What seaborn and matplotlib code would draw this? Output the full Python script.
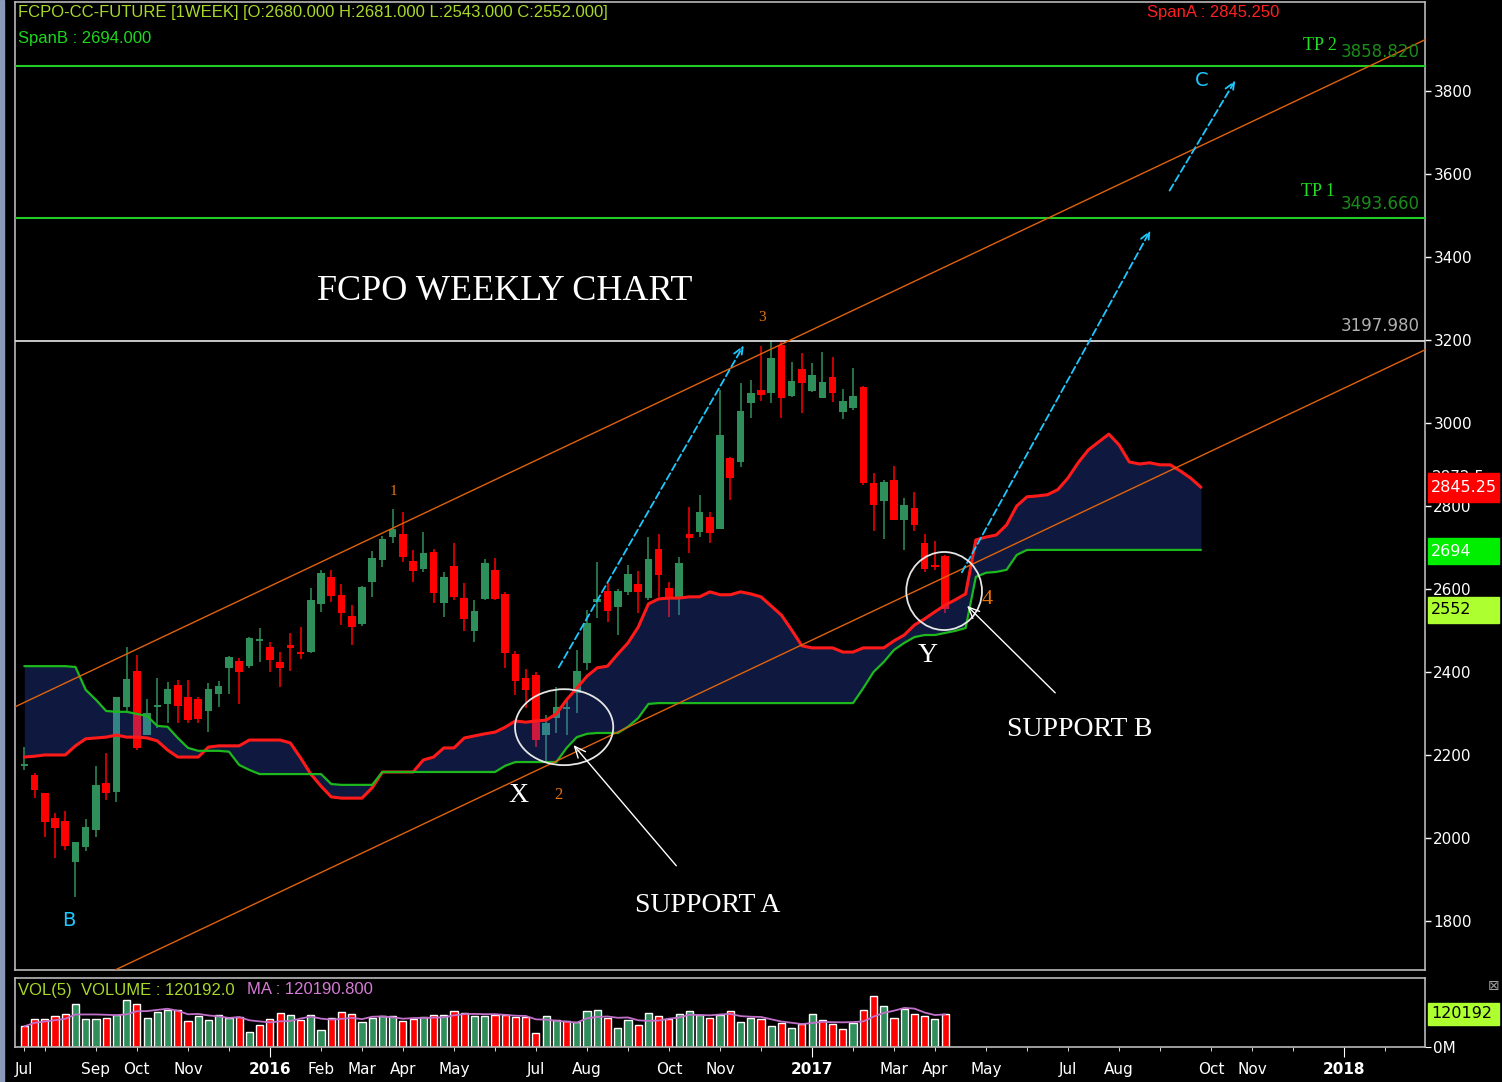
import numpy as np
import pandas as pd
import matplotlib.pyplot as plt
import seaborn as sns
from matplotlib.patches import Ellipse, Rectangle

# weekly FCPO candles (Jul 2015 - Apr 2017)
opens = [2174, 2152, 2108, 2048, 2041, 1942, 1978, 2019, 2133, 2111,
         2316, 2402, 2248, 2316, 2323, 2369, 2340, 2335, 2306, 2347,
         2410, 2427, 2414, 2475, 2460, 2424, 2465, 2448, 2448, 2564,
         2629, 2586, 2535, 2516, 2617, 2670, 2725, 2733, 2667, 2648,
         2689, 2566, 2655, 2578, 2499, 2576, 2646, 2588, 2443, 2386,
         2393, 2248, 2289, 2311, 2349, 2422, 2569, 2595, 2557, 2593,
         2612, 2578, 2696, 2602, 2581, 2733, 2737, 2774, 2745, 2916,
         2906, 3048, 3080, 3072, 3188, 3065, 3130, 3077, 3060, 3111,
         3027, 3036, 3087, 2855, 2812, 2863, 2766, 2795, 2711, 2658,
         2680]
highs = [2219, 2157, 2108, 2060, 2065, 1990, 2046, 2174, 2205, 2340,
         2460, 2441, 2335, 2386, 2376, 2381, 2381, 2340, 2374, 2378,
         2439, 2434, 2484, 2506, 2472, 2448, 2494, 2508, 2602, 2645,
         2646, 2612, 2561, 2607, 2692, 2728, 2793, 2786, 2694, 2737,
         2696, 2641, 2711, 2614, 2574, 2672, 2675, 2593, 2451, 2407,
         2400, 2296, 2364, 2337, 2453, 2549, 2665, 2614, 2600, 2658,
         2643, 2725, 2733, 2617, 2677, 2798, 2827, 2786, 3080, 2918,
         3096, 3104, 3186, 3200, 3195, 3147, 3169, 3145, 3171, 3159,
         3082, 3133, 3089, 2880, 2863, 2896, 2819, 2834, 2733, 2716,
         2681]
lows = [2164, 2096, 2002, 1952, 1971, 1858, 1969, 2002, 2092, 2087,
        2304, 2212, 2248, 2265, 2277, 2277, 2277, 2277, 2255, 2316,
        2347, 2323, 2410, 2424, 2400, 2364, 2403, 2431, 2446, 2545,
        2569, 2513, 2465, 2511, 2581, 2653, 2711, 2665, 2617, 2641,
        2566, 2533, 2574, 2499, 2472, 2574, 2574, 2410, 2345, 2313,
        2219, 2183, 2253, 2248, 2301, 2405, 2530, 2520, 2489, 2586,
        2542, 2574, 2581, 2533, 2537, 2687, 2725, 2711, 2745, 2814,
        2894, 3012, 3053, 3048, 3012, 3063, 3024, 3075, 3060, 3051,
        3010, 3031, 2851, 2740, 2720, 2766, 2694, 2740, 2641, 2646,
        2543]
closes = [2176, 2116, 2039, 2024, 1981, 1990, 2027, 2128, 2108, 2340,
          2383, 2217, 2301, 2320, 2359, 2318, 2284, 2287, 2359, 2366,
          2436, 2400, 2482, 2479, 2429, 2410, 2458, 2443, 2574, 2639,
          2583, 2542, 2508, 2605, 2675, 2720, 2745, 2677, 2643, 2687,
          2590, 2629, 2581, 2528, 2547, 2663, 2576, 2446, 2378, 2357,
          2236, 2277, 2316, 2316, 2402, 2518, 2576, 2547, 2595, 2636,
          2593, 2672, 2634, 2581, 2663, 2723, 2786, 2735, 2971, 2867,
          3029, 3072, 3067, 3157, 3060, 3101, 3096, 3116, 3099, 3072,
          3053, 3065, 2855, 2802, 2858, 2766, 2802, 2754, 2648, 2653,
          2552]

volumes = [76000, 102000, 104000, 113000, 123000, 157000, 102000, 104000, 107000, 116000,
           172000, 159000, 107000, 129000, 137000, 135000, 94000, 114000, 101000, 119000,
           107000, 110000, 55000, 80000, 102000, 125000, 116000, 101000, 116000, 64000,
           108000, 129000, 120000, 92000, 108000, 114000, 113000, 94000, 103000, 111000,
           119000, 119000, 131000, 126000, 114000, 114000, 119000, 119000, 110000, 110000,
           51000, 113000, 98000, 94000, 92000, 132000, 137000, 107000, 70000, 98000,
           80000, 125000, 114000, 104000, 120000, 132000, 119000, 108000, 119000, 131000,
           92000, 107000, 104000, 76000, 89000, 70000, 83000, 123000, 98000, 83000,
           67000, 88000, 135000, 187000, 150000, 108000, 139000, 123000, 114000, 104000,
           120192]
vol_dir = list("rrrrrgggrg" "grgggrrggg" "grgrrrgrgg" "rrrggggrrg" "rgrrggrrrr"
               "rggrgggrgg" "rgrrgggrgr" "ggrgrgrgrr" "rgrrgrgrrg" "r")

# ichimoku cloud, shifted 26 weeks ahead (index 0..115)
span_a = [2195, 2197, 2200, 2200, 2200, 2222, 2239, 2241, 2243, 2248,
          2243, 2243, 2241, 2234, 2212, 2195, 2195, 2195, 2219, 2222,
          2222, 2222, 2236, 2236, 2236, 2236, 2229, 2193, 2154, 2125,
          2099, 2096, 2096, 2096, 2121, 2159, 2159, 2159, 2159, 2188,
          2195, 2217, 2217, 2241, 2246, 2251, 2255, 2267, 2282, 2279,
          2282, 2284, 2299, 2333, 2361, 2390, 2410, 2414, 2443, 2470,
          2508, 2564, 2576, 2578, 2578, 2581, 2581, 2593, 2586, 2586,
          2593, 2588, 2581, 2559, 2537, 2501, 2463, 2458, 2458, 2458,
          2448, 2448, 2458, 2458, 2458, 2475, 2489, 2513, 2528, 2545,
          2561, 2574, 2588, 2718, 2725, 2730, 2754, 2800, 2822, 2824,
          2827, 2839, 2867, 2904, 2935, 2954, 2973, 2947, 2906, 2901,
          2904, 2899, 2899, 2884, 2867, 2845]
span_b = [2414, 2414, 2414, 2414, 2414, 2412, 2357, 2333, 2306, 2304,
          2304, 2299, 2294, 2270, 2268, 2241, 2217, 2210, 2210, 2210,
          2208, 2176, 2164, 2154, 2154, 2154, 2154, 2154, 2154, 2154,
          2130, 2128, 2128, 2128, 2128, 2159, 2159, 2159, 2159, 2159,
          2159, 2159, 2159, 2159, 2159, 2159, 2159, 2174, 2183, 2183,
          2183, 2183, 2183, 2217, 2243, 2251, 2253, 2253, 2253, 2268,
          2289, 2323, 2325, 2325, 2325, 2325, 2325, 2325, 2325, 2325,
          2325, 2325, 2325, 2325, 2325, 2325, 2325, 2325, 2325, 2325,
          2325, 2325, 2361, 2400, 2424, 2453, 2470, 2484, 2489, 2489,
          2494, 2499, 2506, 2629, 2639, 2641, 2646, 2682, 2694, 2694,
          2694, 2694, 2694, 2694, 2694, 2694, 2694, 2694, 2694, 2694,
          2694, 2694, 2694, 2694, 2694, 2694]

# month ticks (week index) and labels
month_pos = [0, 2, 7, 11, 16, 20, 29, 33, 37, 42, 46, 50, 55, 59, 63, 68, 72,
             81, 85, 89, 94, 98, 102, 107, 111, 116, 120, 124, 133]
month_lab = ['Jul', '', 'Sep', 'Oct', 'Nov', '', 'Feb', 'Mar', 'Apr', 'May', '',
             'Jul', 'Aug', '', 'Oct', 'Nov', '', '', 'Mar', 'Apr', 'May', '',
             'Jul', 'Aug', '', 'Oct', 'Nov', '', '']
year_pos = [24, 77, 129]
year_lab = ['2016', '2017', '2018']

# drawn levels / annotations (week index, price)
tp1, tp2, top_level = 3493.66, 3858.82, 3197.98
upper_chan = ([-0.91, 136.9], [2316, 3923])
lower_chan = ([8.87, 136.9], [1682, 3176])
cyan_arrows = [((52.1, 2405), (70.45, 3193)),
               ((91.5, 2634), (110.2, 3470)),
               ((111.8, 3554), (118.5, 3831))]

W, H = 1502, 1082
GREEN = '#2f8f5b'
RED = '#ff0000'

sns.set_style('dark', {'axes.facecolor': 'black', 'figure.facecolor': 'black'})
plt.rcParams['font.family'] = ['DejaVu Sans']


def px(x, y, s, **kw):
    fig.text(x / W, 1 - y / H, s, **kw)


fig = plt.figure(figsize=(W / 100, H / 100), dpi=100, facecolor='black')
ax = fig.add_axes([15 / W, 1 - 970 / H, 1410 / W, 968 / H])
vax = fig.add_axes([15 / W, 1 - 1047 / H, 1410 / W, 69 / H])

weeks = np.arange(len(opens))
o, c = np.array(opens), np.array(closes)
cols = np.where(c >= o, GREEN, RED)
ax.vlines(weeks, lows, highs, colors=cols, lw=1.1, zorder=2)
ax.bar(weeks, np.maximum(np.abs(c - o), 4), bottom=np.minimum(o, c), width=0.74,
       color=cols, linewidth=0, zorder=2)

# cloud
cx = np.arange(len(span_a))
ax.fill_between(cx, span_a, span_b, color='#3c64ff', alpha=0.25, lw=0, zorder=3)
sns.lineplot(x=cx, y=span_a, color='#ff1a1a', lw=2.2, ax=ax, zorder=4)
sns.lineplot(x=cx, y=span_b, color='#1cb81c', lw=1.6, ax=ax, zorder=4)

# levels and channel
ax.axhline(tp2, color='#22cc22', lw=1.5, zorder=5)
ax.axhline(tp1, color='#22cc22', lw=1.5, zorder=5)
ax.axhline(top_level, color='#d8d8d8', lw=1.3, zorder=5)
ax.plot(*upper_chan, color='#e0620c', lw=1.0, zorder=5)
ax.plot(*lower_chan, color='#e0620c', lw=1.0, zorder=5)

for tail, head in cyan_arrows:
    ax.annotate('', xy=head, xytext=tail,
                arrowprops=dict(arrowstyle='->,head_length=0.7,head_width=0.3',
                                color='#1ec8ff', lw=1.3, linestyle=(0, (4, 2))),
                zorder=6)

ax.add_patch(Ellipse((52.76, 2267), 9.6, 183, fill=False, ec='#e6e6e6', lw=1.3, zorder=6))
ax.add_patch(Ellipse((89.9, 2595), 7.4, 188, fill=False, ec='#e6e6e6', lw=1.3, zorder=6))
ax.annotate('', xy=(53.5, 2229), xytext=(63.9, 1928),
            arrowprops=dict(arrowstyle='->,head_length=0.8,head_width=0.35', color='white', lw=1),
            zorder=6)
ax.annotate('', xy=(91.95, 2564), xytext=(100.95, 2345),
            arrowprops=dict(arrowstyle='->,head_length=0.8,head_width=0.35', color='white', lw=1),
            zorder=6)

ax.set_xlim(-0.91, 136.9)
ax.set_ylim(1682, 4014)
ax.set_xlabel('')
ax.set_ylabel('')
ax.set_xticks([])
ax.yaxis.tick_right()
ax.set_yticks(np.arange(1800, 3801, 200))
ax.tick_params(axis='y', colors='white', labelcolor='white', labelsize=11,
               length=4, width=1, pad=2, direction='out', right=True, left=False)
for sp in ax.spines.values():
    sp.set_color('#b8b8b8')
    sp.set_linewidth(1.2)
ax.grid(False)

# volume panel
vdf = pd.DataFrame({'week': weeks, 'volume': volumes, 'dir': vol_dir})
sns.barplot(data=vdf, x='week', y='volume', hue='dir', palette={'g': GREEN, 'r': RED},
            native_scale=True, dodge=False, width=0.7, saturation=1, legend=False,
            errorbar=None, ax=vax)
vdf['ma'] = vdf['volume'].rolling(5, min_periods=1).mean()
sns.lineplot(data=vdf, x='week', y='ma', color='#c070c8', lw=1.3, ax=vax)
vax.set_xlim(-0.91, 136.9)
vax.set_ylim(0, 254000)
vax.set_xlabel('')
vax.set_ylabel('')
vax.yaxis.tick_right()
vax.set_yticks([0])
vax.set_yticklabels(['0M'])
vax.set_xticks(year_pos, year_lab)
vax.set_xticks(month_pos, month_lab, minor=True)
vax.tick_params(axis='y', colors='white', labelsize=11, length=4, pad=2, right=True, left=False)
vax.tick_params(axis='x', which='major', colors='white', labelsize=11, length=7, pad=4,
                bottom=True, direction='out')
vax.tick_params(axis='x', which='minor', colors='white', labelsize=11, length=3, pad=8,
                bottom=True, direction='out')
for t in vax.get_xticklabels():
    t.set_fontweight('bold')
for sp in vax.spines.values():
    sp.set_color('#b8b8b8')
    sp.set_linewidth(1.2)
vax.grid(False)

# window edge
fig.add_artist(Rectangle((0, 0), 4 / W, 1, transform=fig.transFigure, color='#8a9ab8'))

# header texts
sans = 'Liberation Sans'
px(18, 12, 'FCPO-CC-FUTURE [1WEEK] [O:2680.000 H:2681.000 L:2543.000 C:2552.000]',
   color='#a8d82a', fontsize=12, family=sans, va='center')
px(18, 38, 'SpanB : 2694.000', color='#1ed81e', fontsize=12, family=sans, va='center')
px(1213, 12, 'SpanA : 2845.250', color='#ff2020', fontsize=12, family=sans,
   va='center', ha='center')
px(18, 990, 'VOL(5)  VOLUME : 120192.0', color='#a8d82a', fontsize=12, family=sans,
   va='center')
px(247, 990, 'MA : 120190.800', color='#d77ad7', fontsize=12, family=sans, va='center')

# level labels
px(1320, 45, 'TP 2', color='#22dd22', fontsize=13, family='Liberation Serif', ha='center',
   va='center')
px(1380, 52, '3858.820', color='#1a8c1a', fontsize=12, ha='center', va='center')
px(1318, 192, 'TP 1', color='#22dd22', fontsize=13, family='Liberation Serif', ha='center',
   va='center')
px(1380, 204, '3493.660', color='#1a8c1a', fontsize=12, ha='center', va='center')
px(1380, 326, '3197.980', color='#b0b0b0', fontsize=12, ha='center', va='center')

# annotations
serif = 'Liberation Serif'
px(505, 292, 'FCPO WEEKLY CHART', color='white', fontsize=26, family=serif, ha='center',
   va='center')
px(708, 905, 'SUPPORT A', color='white', fontsize=20, family=serif, ha='center', va='center')
px(1080, 730, 'SUPPORT B', color='white', fontsize=20, family=serif, ha='center', va='center')
px(518, 796, 'X', color='white', fontsize=20, family=serif, ha='center', va='center')
px(928, 655, 'Y', color='white', fontsize=20, family=serif, ha='center', va='center')
px(69, 920, 'B', color='#1ec8ff', fontsize=14, ha='center', va='center')
px(1202, 80, 'C', color='#1ec8ff', fontsize=14, ha='center', va='center')
for x, y, s, fs in [(393, 491, '1', 11), (558, 795, '2', 12), (762, 318, '3', 11),
                    (987, 600, '4', 16)]:
    px(x, y, s, color='#e8720c', fontsize=fs, family=serif, ha='center', va='center')

# right-hand price boxes (the 2872.5 label sits behind the SpanA box, as in the source)
px(1432, 478, '2872.5', color='white', fontsize=11, va='center')
for y0, y1, col, s, tc in [(473, 502, '#ff0000', '2845.25', 'white'),
                           (538, 564, '#00ee00', '2694', 'white'),
                           (597, 623, '#adff2f', '2552', 'black'),
                           (1003, 1025, '#adff2f', '120192', 'black')]:
    fig.add_artist(Rectangle((1428 / W, 1 - y1 / H), 71 / W, (y1 - y0) / H,
                             transform=fig.transFigure, color=col, zorder=10))
    px(1431, (y0 + y1) / 2, s, color=tc, fontsize=11.5, va='center', zorder=11)

px(1494, 986, '⊠', color='#a0a0a0', fontsize=10, ha='center', va='center')

fig.savefig('out.png', dpi=100, facecolor='black')
